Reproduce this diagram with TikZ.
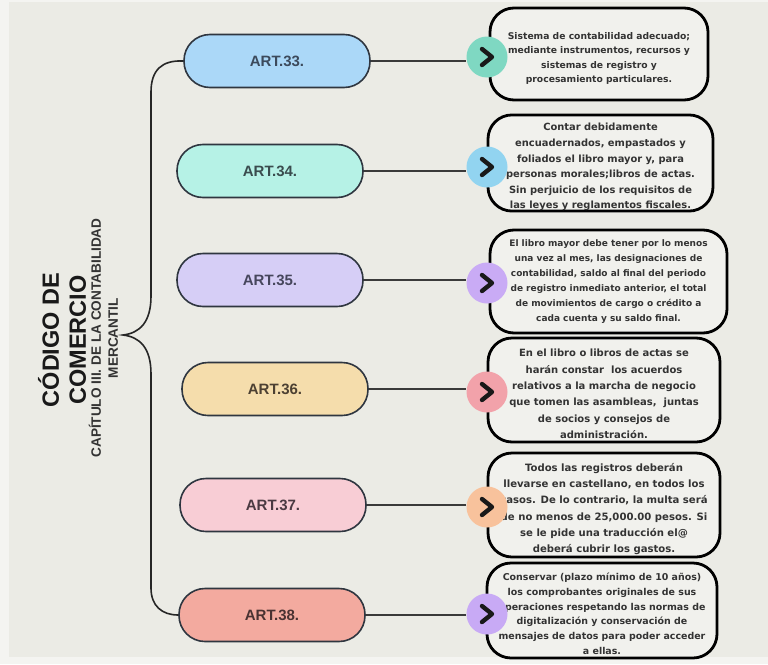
\documentclass[tikz,border=0pt]{standalone}
\usepackage{fontspec}
\setmainfont{Liberation Sans}
\newfontfamily\boxfont{DejaVu Sans}
\usetikzlibrary{calc}
\definecolor{bg}{HTML}{EBEBE5}
\definecolor{bgedge}{HTML}{F4F4F1}
\definecolor{boxfill}{HTML}{F1F1ED}
\definecolor{boxtext}{HTML}{333333}
\definecolor{pillline}{HTML}{2F3640}
\definecolor{connline}{HTML}{3A3A3A}
\definecolor{pA}{HTML}{ABD8F8}
\definecolor{pB}{HTML}{B6F2E6}
\definecolor{pC}{HTML}{D6CEF6}
\definecolor{pD}{HTML}{F5DDAC}
\definecolor{pE}{HTML}{F8CDD5}
\definecolor{pF}{HTML}{F3AA9F}
\definecolor{tA}{HTML}{3C4A5C}
\definecolor{tB}{HTML}{3A4C4E}
\definecolor{tC}{HTML}{46465C}
\definecolor{tD}{HTML}{4C4032}
\definecolor{tE}{HTML}{4A3A42}
\definecolor{tF}{HTML}{4A3232}
\definecolor{cA}{HTML}{7FD8C2}
\definecolor{cB}{HTML}{92D4F0}
\definecolor{cC}{HTML}{C9ABF5}
\definecolor{cD}{HTML}{F2A2AA}
\definecolor{cE}{HTML}{F8C29C}
\definecolor{cF}{HTML}{C8AAF5}
\newcommand\toppad[1]{\rule{0pt}{#1}}
\begin{document}
\begin{tikzpicture}[x=1pt,y=-1pt,
  pill/.style={draw=pillline, line width=1.6pt, rounded corners=26pt,
    minimum width=186pt, minimum height=53pt, inner sep=0pt,
    font=\fontsize{15}{18}\selectfont\bfseries},
  infobox/.style={draw=black, line width=2.8pt, rounded corners=24pt,
    fill=boxfill, align=center, inner sep=0pt, text=boxtext},
  circ/.style={circle, minimum size=41pt, inner sep=0pt},
  chev/.style={line width=4.4pt, line cap=round, line join=round, draw=black!90},
  conn/.style={draw=connline, line width=1.5pt},
  brace/.style={draw=black!85, line width=1.6pt}
]
% background
\fill[bgedge] (0,0) rectangle (768,664);
\fill[bg] (9,2) rectangle (768,657);
\useasboundingbox (0,0) rectangle (768,664);

% info boxes
\node[infobox, minimum width=218pt, minimum height=92pt,
  font=\boxfont\bfseries\fontsize{9.2}{14.5}\selectfont] (b1) at (599,54)
 {\toppad{16pt}Sistema de contabilidad adecuado;\\ mediante instrumentos, recursos y\\ sistemas de registro y\\ procesamiento particulares.};
\node[infobox, minimum width=225pt, minimum height=96pt,
  font=\boxfont\bfseries\fontsize{9.9}{15.6}\selectfont] (b2) at (600.5,163)
 {\toppad{16pt}Contar debidamente\\ encuadernados, empastados y\\ foliados el libro mayor y, para\\ personas morales;libros de actas.\\ Sin perjuicio de los requisitos de\\ las leyes y reglamentos fiscales.};
\node[infobox, minimum width=237pt, minimum height=103pt,
  font=\boxfont\bfseries\fontsize{9}{15}\selectfont] (b3) at (608.5,281.5)
 {El libro mayor debe tener por lo menos\\ una vez al mes, las designaciones de\\ contabilidad, saldo al final del periodo\\ de registro inmediato anterior, el total\\ de movimientos de cargo o crédito a\\ cada cuenta y su saldo final.};
\node[infobox, minimum width=232pt, minimum height=104pt,
  font=\boxfont\bfseries\fontsize{10}{16.4}\selectfont] (b4) at (604,390)
 {\toppad{15.5pt}En el libro o libros de actas se\\ harán constar\ \ los acuerdos\\ relativos a la marcha de negocio\\ que tomen las asambleas,\ \ juntas\\ de socios y consejos de\\ administración.};
\node[infobox, minimum width=232pt, minimum height=104pt,
  font=\boxfont\bfseries\fontsize{10.1}{16.2}\selectfont] (b5) at (604,505)
 {\toppad{16pt}Todos las registros deberán\\ llevarse en castellano, en todos los\\ casos. De lo contrario, la multa será\\ de no menos de 25,000.00 pesos. Si\\ se le pide una traducción el@\\ deberá cubrir los gastos.};
\node[infobox, minimum width=230pt, minimum height=95pt,
  font=\boxfont\bfseries\fontsize{9.45}{14.8}\selectfont] (b6) at (602,610.5)
 {\toppad{14pt}Conservar (plazo mínimo de 10 años)\\ los comprobantes originales de sus\\ operaciones respetando las normas de\\ digitalización y conservación de\\ mensajes de datos para poder acceder\\ a ellas.};

% circles with chevrons
\node[circ, fill=cA] (c1) at (487,57) {};
\node[circ, fill=cB] (c2) at (487,167) {};
\node[circ, fill=cC] (c3) at (487,283) {};
\node[circ, fill=cD] (c4) at (487,392) {};
\node[circ, fill=cE] (c5) at (487,507) {};
\node[circ, fill=cF] (c6) at (487,614) {};
\foreach \c in {c1,c2,c3,c4,c5,c6}{
  \draw[chev] ($(\c.center)+(-5,-8)$) -- ($(\c.center)+(5,0)$) -- ($(\c.center)+(-5,8)$);
}

% pills
\node[pill, fill=pA, text=tA] (a33) at (277,61) {ART.33.};
\node[pill, fill=pB, text=tB] (a34) at (270,171) {ART.34.};
\node[pill, fill=pC, text=tC] (a35) at (270,280) {ART.35.};
\node[pill, fill=pD, text=tD] (a36) at (275,389) {ART.36.};
\node[pill, fill=pE, text=tE] (a37) at (273,505) {ART.37.};
\node[pill, fill=pF, text=tF] (a38) at (272,615) {ART.38.};

% connectors
\draw[conn] (a33.east) -- (a33.east -| c1.west);
\draw[conn] (a34.east) -- (a34.east -| c2.west);
\draw[conn] (a35.east) -- (a35.east -| c3.west);
\draw[conn] (a36.east) -- (a36.east -| c4.west);
\draw[conn] (a37.east) -- (a37.east -| c5.west);
\draw[conn] (a38.east) -- (a38.east -| c6.west);

% brace
\coordinate (tip) at (123,335);
\draw[brace] (a33.west) .. controls (162,60) and (151,70) .. (151,92)
  -- (151,296) .. controls (151,322) and (140,333) .. (tip)
  .. controls (140,337) and (151,348) .. (151,374)
  -- (151,588) .. controls (151,606) and (162,615) .. (a38.west);

% titles
\node[rotate=90, align=center, font=\fontsize{23.5}{27}\selectfont\bfseries, text=black!90] (title) at (62,340)
  {CÓDIGO DE\\COMERCIO};
\node[rotate=90, align=center, font=\fontsize{13.6}{17}\selectfont\bfseries, text=black!80] (sub) at (103.5,338)
  {CAPÍTULO III. DE LA CONTABILIDAD\\MERCANTIL};
\end{tikzpicture}
\end{document}
